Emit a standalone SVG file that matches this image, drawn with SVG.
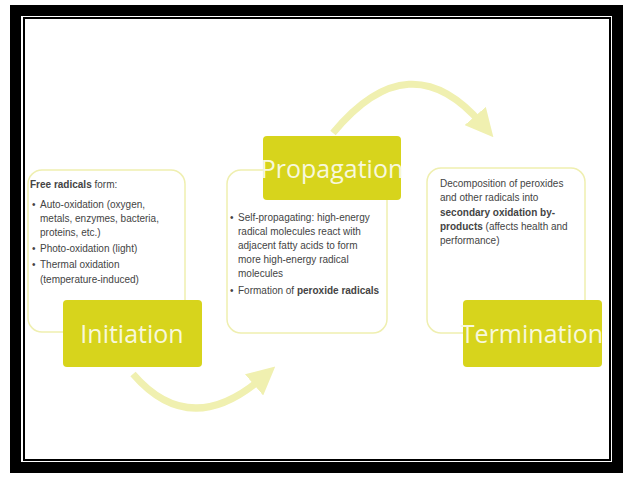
<svg xmlns="http://www.w3.org/2000/svg" width="638" height="478" viewBox="0 0 638 478">
<style>
.box{fill:#fff;stroke:#efefb0;stroke-width:1.5}
.lab{fill:#d7d41c}
.lt{font-family:"Open Sans","Liberation Sans",sans-serif;font-size:25px;fill:#f8f8dc;text-anchor:middle}
.t{font-family:"Liberation Sans",sans-serif;font-size:10px;fill:#444}
.arc{fill:none;stroke:#f0f0b0;stroke-width:7}
</style>
<defs><marker id="ah" markerWidth="4" markerHeight="4" refX="1.5" refY="2" orient="auto"><path d="M0,0L4,2L0,4z" fill="#f0f0b0"/></marker></defs>
<rect x="0" y="0" width="638" height="478" fill="#fff"/>
<rect x="15.5" y="10.5" width="602" height="457" fill="none" stroke="#000" stroke-width="11"/>
<rect x="24" y="18" width="586" height="442" fill="none" stroke="#000" stroke-width="2"/>
<g id="connectors">
<path class="arc" d="M133,374 Q190,440 262,378" marker-end="url(#ah)"/>
<path class="arc" d="M333,133 Q410,40 482,124" marker-end="url(#ah)"/>
</g>
<g id="initiation">
<rect class="box" x="28" y="170" width="157" height="162" rx="14"/>
<text class="t" x="30" y="188"><tspan font-weight="bold">Free radicals</tspan> form:</text>
<text class="t" x="32" y="208">•</text><text class="t" x="40" y="208">Auto-oxidation (oxygen,</text>
<text class="t" x="40" y="222">metals, enzymes, bacteria,</text>
<text class="t" x="40" y="236">proteins, etc.)</text>
<text class="t" x="32" y="252">•</text><text class="t" x="40" y="252">Photo-oxidation (light)</text>
<text class="t" x="32" y="268">•</text><text class="t" x="40" y="268">Thermal oxidation</text>
<text class="t" x="40" y="283">(temperature-induced)</text>
<rect class="lab" x="63" y="300" width="139" height="67" rx="4"/>
<text class="lt" x="132" y="343">Initiation</text>
</g>
<g id="propagation">
<rect class="box" x="227" y="170" width="160" height="163" rx="14"/>
<text class="t" x="230" y="221">•</text><text class="t" x="238" y="221">Self-propagating: high-energy</text>
<text class="t" x="238" y="235">radical molecules react with</text>
<text class="t" x="238" y="249">adjacent fatty acids to form</text>
<text class="t" x="238" y="263">more high-energy radical</text>
<text class="t" x="238" y="277">molecules</text>
<text class="t" x="230" y="294">•</text><text class="t" x="238" y="294">Formation of <tspan font-weight="bold">peroxide radicals</tspan></text>
<rect class="lab" x="263" y="136" width="138" height="64" rx="4"/>
<text class="lt" x="332" y="178">Propagation</text>
</g>
<g id="termination">
<rect class="box" x="427" y="168" width="158" height="165" rx="14"/>
<text class="t" x="440" y="187">Decomposition of peroxides</text>
<text class="t" x="440" y="201">and other radicals into</text>
<text class="t" x="440" y="216" font-weight="bold">secondary oxidation by-</text>
<text class="t" x="440" y="230"><tspan font-weight="bold">products</tspan> (affects health and</text>
<text class="t" x="440" y="244">performance)</text>
<rect class="lab" x="463" y="300" width="139" height="67" rx="4"/>
<text class="lt" x="532" y="343">Termination</text>
</g>
</svg>
